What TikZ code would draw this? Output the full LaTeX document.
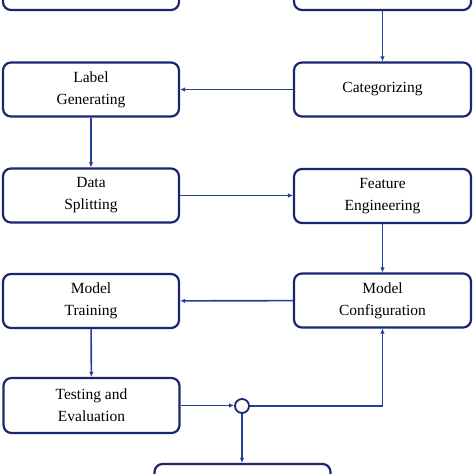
\documentclass[tikz,border=0pt]{standalone}
\usepackage{fontspec}
\setmainfont{Liberation Serif}
\usetikzlibrary{arrows.meta}
\definecolor{boxc}{HTML}{1B2670}
\definecolor{arrc}{HTML}{22409A}
\begin{document}
\begin{tikzpicture}[x=1pt,y=-1pt,
  stepbox/.style={draw=boxc, line width=2.2pt, rounded corners=8pt, minimum width=176pt, minimum height=54pt, inner sep=0pt, align=center, font=\fontsize{15.5}{22}\selectfont, text=black},
  conn/.style={draw=arrc, line width=1.6pt, -{Latex[length=5pt,width=4.5pt]}},
  plain/.style={draw=arrc, line width=1.6pt}]
\useasboundingbox (0,0) rectangle (474,474);
\clip (0,0) rectangle (474,474);
\node[stepbox] (TL) at (91,-17) {};
\node[stepbox, minimum width=177pt] (TR) at (382.5,-17) {};
\node[stepbox] (LG) at (91,89.5) {Label\\Generating};
\node[stepbox, minimum width=177pt] (CAT) at (382.5,89.5) {Categorizing};
\node[stepbox] (DS) at (91,195.5) {Data\\Splitting};
\node[stepbox, minimum width=177pt] (FE) at (382.5,196) {Feature\\Engineering};
\node[stepbox] (MT) at (91,301) {Model\\Training};
\node[stepbox, minimum width=177pt] (MC) at (382.5,300.5) {Model\\Configuration};
\node[stepbox, minimum height=55pt] (TE) at (91.5,405.5) {Testing and\\Evaluation};
\node[stepbox] (BOT) at (242.5,491) {};
\node[draw=boxc, line width=1.8pt, circle, minimum size=14pt, inner sep=0pt] (J) at (242,406) {};
\draw[conn] (TR) -- (CAT);
\draw[conn] (CAT) -- (LG);
\draw[conn] (LG) -- (DS);
\draw[conn] (DS.east) -- (DS.east -| FE.west);
\draw[conn] (FE) -- (MC);
\draw[conn] (MC) -- (MT);
\draw[conn] (MT) -- (TE);
\draw[conn] (TE.east) -- (TE.east -| J.west);
\draw[conn] (J.east) -| (MC.south);
\draw[conn] (J.south) -- (J |- BOT.north);
\end{tikzpicture}
\end{document}
